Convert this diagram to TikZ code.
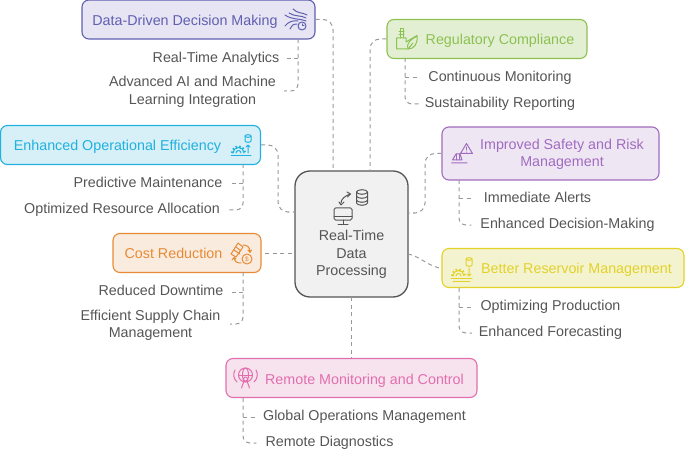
\documentclass[tikz,border=0pt]{standalone}
\usepackage{fontspec}
\setmainfont{Liberation Sans}
\usetikzlibrary{arrows.meta}

\definecolor{ddline}{HTML}{5F5FB0}
\definecolor{ddfill}{HTML}{E7E5F4}
\definecolor{rcline}{HTML}{8CC152}
\definecolor{rcfill}{HTML}{E3EFD3}
\definecolor{enline}{HTML}{1FB1E0}
\definecolor{enfill}{HTML}{D7EFF7}
\definecolor{isline}{HTML}{A06CBF}
\definecolor{isfill}{HTML}{EFE6F4}
\definecolor{crline}{HTML}{E88A35}
\definecolor{crfill}{HTML}{F9ECDF}
\definecolor{brline}{HTML}{E3D12A}
\definecolor{brfill}{HTML}{F3F4CF}
\definecolor{rmline}{HTML}{E36EAF}
\definecolor{rmfill}{HTML}{F6E3EE}
\definecolor{hubfill}{HTML}{F0F1F0}
\definecolor{hubline}{HTML}{555555}
\definecolor{linkgray}{HTML}{999999}

\tikzset{
    head/.style={draw, rounded corners=7pt, line width=1.1pt, inner sep=0pt},
    title/.style={font=\fontsize{14.3}{17.5}\selectfont, align=center, inner sep=0pt, yshift=-2pt, execute at begin node=\strut, execute at end node=\strut},
    item/.style={title, text=hubline, inner sep=1pt},
    link/.style={draw=linkgray, dash pattern=on 4pt off 3.5pt, line width=1pt, rounded corners=10pt},
    twig/.style={draw=linkgray, dash pattern=on 4pt off 3.5pt, line width=1pt, rounded corners=7pt},
    icon/.style={line width=1pt, line cap=round, line join=round},
    cogteeth/.style={line width=2pt, line cap=butt, dash pattern=on 1.6pt off 2pt},
}

\begin{document}
\begin{tikzpicture}[x=1pt, y=-1pt]
        \useasboundingbox (0,0) rectangle (685,449);

        % Pieces
        \node[head, draw=hubline, fill=hubfill, rounded corners=15pt, minimum width=113pt, minimum height=126pt, line width=1.3pt] (hub) at (351.5, 234) {};
        \node[head, draw=ddline, fill=ddfill, minimum width=233pt, minimum height=39pt] (dd) at (198.5, 19.5) {};
        \node[head, draw=rcline, fill=rcfill, minimum width=200pt, minimum height=39pt] (rc) at (487, 39) {};
        \node[head, draw=enline, fill=enfill, minimum width=260pt, minimum height=39pt] (en) at (130.5, 145) {};
        \node[head, draw=isline, fill=isfill, minimum width=217pt, minimum height=53pt] (is) at (550.5, 153.5) {};
        \node[head, draw=crline, fill=crfill, minimum width=148pt, minimum height=39pt] (cr) at (187, 253) {};
        \node[head, draw=brline, fill=brfill, minimum width=242pt, minimum height=39pt] (br) at (563, 268) {};
        \node[head, draw=rmline, fill=rmfill, minimum width=251pt, minimum height=39pt] (rm) at (351.5, 378) {};

        % Titles
        \node[title, text=ddline] (ddtext) at (185, 20) {Data-Driven Decision Making};
        \node[title, text=rcline] (rctext) at (500, 39) {Regulatory Compliance};
        \node[title, text=enline] (entext) at (117.5, 145) {Enhanced Operational Efficiency};
        \node[title, text=isline] (istext) at (562, 153.5) {Improved Safety and Risk\\Management};
        \node[title, text=crline] (crtext) at (173.5, 253) {Cost Reduction};
        \node[title, text=brline] (brtext) at (576.5, 268) {Better Reservoir Management};
        \node[title, text=rmline] (rmtext) at (364.5, 378.5) {Remote Monitoring and Control};
        \node[item] (hubtext) at (351.5, 253.5) {Real-Time\\Data\\Processing};

        % Items
        \node[item] (dd1) at (216, 57) {Real-Time Analytics};
        \node[item] (dd2) at (192.5, 91) {Advanced AI and Machine\\Learning Integration};
        \node[item] (rc1) at (500, 76) {Continuous Monitoring};
        \node[item] (rc2) at (500, 102) {Sustainability Reporting};
        \node[item] (en1) at (148, 182) {Predictive Maintenance};
        \node[item] (en2) at (122, 208) {Optimized Resource Allocation};
        \node[item] (is1) at (537.5, 197) {Immediate Alerts};
        \node[item] (is2) at (567.5, 223) {Enhanced Decision-Making};
        \node[item] (cr1) at (161, 290) {Reduced Downtime};
        \node[item] (cr2) at (150.5, 324.5) {Efficient Supply Chain\\Management};
        \node[item] (br1) at (550.5, 305) {Optimizing Production};
        \node[item] (br2) at (550.5, 331) {Enhanced Forecasting};
        \node[item] (rm1) at (364.5, 415) {Global Operations Management};
        \node[item] (rm2) at (329.5, 441) {Remote Diagnostics};

        % Free ends
        \coordinate (hubdd) at (333, 171);
        \coordinate (hubrc) at (370, 171);
        \coordinate (hubenmid) at (278, 180);
        \coordinate (hubismid) at (425, 180);
        \coordinate (hubw) at (295, 212);
        \coordinate (hube) at (408, 213);
        \coordinate (hubs) at (351, 297);
        \coordinate (hubse) at (408, 254);
        \coordinate (brw) at (442, 268);
        \coordinate (crgap) at (265, 253.5);
        \coordinate (ddroot) at (298, 39);
        \coordinate (rcroot) at (405, 58);
        \coordinate (enroot) at (243, 164);
        \coordinate (isroot) at (459, 180);
        \coordinate (crroot) at (243, 272);
        \coordinate (brroot) at (459, 288);
        \coordinate (rmroot) at (243, 398);
        \coordinate (ddend) at (284, 91);
        \coordinate (crend) at (230, 324);

        % Arrows
        \draw[link] (dd.east) -| (hubdd);
        \draw[link] (rc.west) -| (hubrc);
        \draw[link] (en.east) -| (hubenmid) |- (hubw);
        \draw[link] (is.west) -| (hubismid) |- (hube);
        \draw[link] (crgap) -- (hub.west |- crgap);
        \draw[link, rounded corners=0pt] (hubse) .. controls (420, 256) and (430, 268) .. (brw);
        \draw[link] (hubs) -- (rm.north -| hubs);

        \draw[twig] (ddroot) |- (ddend);
        \draw[twig] (dd1.east -| ddroot) -- ([xshift=6pt]dd1.east);
        \draw[twig] (rcroot) |- ([xshift=-3pt]rc2.west);
        \draw[twig] (rc1.west -| rcroot) -- ([xshift=-8pt]rc1.west);
        \draw[twig] (enroot) |- ([xshift=8pt]en2.east);
        \draw[twig] (en1.east -| enroot) -- ([xshift=6pt]en1.east);
        \draw[twig] (isroot) |- ([xshift=-8pt]is2.west);
        \draw[twig] (is1.west -| isroot) -- ([xshift=-10pt]is1.west);
        \draw[twig] (crroot) |- (crend);
        \draw[twig] (cr1.east -| crroot) -- ([xshift=6pt]cr1.east);
        \draw[twig] (brroot) |- ([xshift=-6pt]br2.west);
        \draw[twig] (br1.west -| brroot) -- ([xshift=-6pt]br1.west);
        \draw[twig] (rmroot) |- ([xshift=-8pt]rm2.west);
        \draw[twig] (rm1.west -| rmroot) -- ([xshift=-6pt]rm1.west);

        % Data-driven icon
        \begin{scope}[icon, draw=ddline]
            \draw (293, 9) .. controls (298, 14) and (302, 12) .. (307, 15);
            \draw (289, 13) .. controls (295, 17) and (301, 15) .. (306, 18);
            \draw (285, 15) .. controls (292, 20) and (298, 18) .. (306, 21);
            \draw (285, 26) .. controls (288, 22) and (293, 20) .. (298, 21);
            \draw (290, 29) .. controls (291, 26) and (293, 24) .. (297, 24);
            \draw (302, 26) circle (4);
            \draw (302, 24) -- (302, 26) -- (304, 26);
        \end{scope}

        % Regulatory icon
        \begin{scope}[icon, draw=rcline]
            \draw (400, 38) -- (400, 29) -- (403, 29) -- (403, 38);
            \draw (399, 32) -- (404, 32) (399, 35) -- (404, 35);
            \draw (407, 49) -- (396.5, 49) -- (396.5, 38) -- (406, 38) -- (406, 42) -- (417, 35.5);
            \draw (408, 49) .. controls (406, 42) and (412, 39) .. (417, 36) .. controls (418, 44) and (414, 49) .. (408, 49);
            \draw (408, 49) -- (413, 43);
        \end{scope}

        % Efficiency icon
        \begin{scope}[icon, draw=enline]
            \draw (233, 153) arc (180:360:5.5 and 5.5);
            \draw[cogteeth] (232, 153) arc (180:360:6.5 and 6.5);
            \draw (236, 153) arc (180:360:2.5 and 2.5);
            \draw (231, 155.5) -- (251, 155.5);
            \draw (248, 136) ellipse (3 and 1.3);
            \draw (245, 136) -- (245, 141) arc (180:360:3 and -1.3) -- (251, 136);
            \draw (248, 153) -- (248, 145) (246, 147) -- (248, 145) -- (250, 147);
        \end{scope}

        % Safety icon
        \begin{scope}[icon, draw=isline]
            \draw (466.5, 143.5) -- (472.5, 153.5) -- (460.5, 153.5) -- cycle;
            \draw (466.5, 147) -- (466.5, 150) (466.5, 152) -- (466.5, 152.1);
            \draw (451.5, 163) -- (467, 163) (452.5, 160) -- (456, 154) -- (460, 154) -- (462, 160) -- cycle;
            \draw (456, 154) -- (456, 160) (459, 154) -- (459, 160);
        \end{scope}

        % Cost icon
        \begin{scope}[icon, draw=crline]
            \draw (231, 254) -- (238, 243) -- (243, 247) -- (236, 257) -- cycle;
            \draw (234, 250) -- (240, 254) (236, 247) -- (241, 251);
            \draw (243, 245) .. controls (247, 245) and (250, 247) .. (250, 252) (248, 250) -- (250, 252.5) -- (251.5, 250);
            \draw (234, 258) .. controls (235, 262) and (237, 263) .. (241, 263) (236, 259) -- (234, 257.5) -- (232, 260);
            \draw (247, 259) circle (5);
            \node[inner sep=0pt, text=crline, font=\fontsize{6.5}{6.5}\selectfont] (crcoin) at (247, 259) {\$};
        \end{scope}

        % Reservoir icon
        \begin{scope}[icon, draw=brline]
            \draw (453, 276) arc (180:360:5.5 and 5.5);
            \draw[cogteeth] (452, 276) arc (180:360:6.5 and 6.5);
            \draw (456, 276) arc (180:360:2.5 and 2.5);
            \draw (451, 278) -- (472, 278) (453, 281) -- (470, 281);
            \draw (469, 259) ellipse (3 and 1.3);
            \draw (466, 259) -- (466, 265) arc (180:360:3 and -1.3) -- (472, 259);
            \draw (469, 268) -- (469, 276) (467, 274) -- (469, 276) -- (471, 274);
        \end{scope}

        % Remote icon
        \begin{scope}[icon, draw=rmline]
            \draw (245.5, 375) circle (7);
            \draw (245.5, 375) ellipse (3 and 7);
            \draw (238.5, 375) -- (252.5, 375);
            \draw (235, 370) .. controls (233, 374) and (233, 378) .. (237, 382);
            \draw (256, 370) .. controls (258, 374) and (258, 378) .. (254, 382);
            \draw (245.5, 379) circle (2);
            \draw (244, 381) -- (241.5, 388) (247, 381) -- (249.5, 388);
        \end{scope}

        % Hub icon
        \begin{scope}[icon, draw=hubline]
            \draw (362, 192) ellipse (5.5 and 2.3);
            \draw (356.5, 192) -- (356.5, 203) arc (180:360:5.5 and -2.3) -- (367.5, 192);
            \draw (356.5, 196) arc (180:360:5.5 and -2.3) (356.5, 200) arc (180:360:5.5 and -2.3);
            \draw (341, 203) .. controls (341, 199) and (345, 196) .. (350, 194);
            \draw (347, 192) -- (350.5, 194) -- (347.5, 197);
            \draw (339, 202) -- (341, 205) -- (344, 202);
            \draw[rounded corners=1.5pt] (334, 208) rectangle (352, 220);
            \draw (334, 216) -- (352, 216) (343, 220) -- (343, 224) (338, 224) -- (348, 224);
        \end{scope}
    \end{tikzpicture}
\end{document}
